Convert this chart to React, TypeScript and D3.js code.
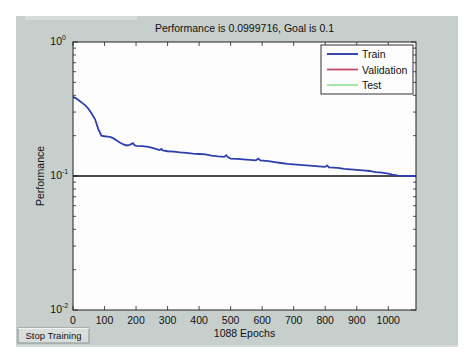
import React from "react";
import * as d3 from "d3";

const epochs = [
  0, 10, 20, 30, 40, 50, 60, 70, 80, 90, 100, 110, 120, 130, 140, 150, 160, 170,
  180, 190, 195, 200, 220, 240, 260, 275, 280, 285, 300, 320, 340, 360, 380, 400,
  420, 440, 460, 480, 486, 492, 500, 520, 540, 560, 580, 588, 594, 620, 640, 660,
  680, 700, 720, 740, 760, 780, 800, 806, 812, 840, 860, 880, 900, 920, 940, 960,
  980, 1000, 1010, 1015, 1020, 1030, 1050, 1070, 1088,
];
const trainPerf = [
  0.389, 0.38, 0.365, 0.35, 0.335, 0.315, 0.29, 0.265, 0.225, 0.2, 0.198, 0.197,
  0.195, 0.19, 0.183, 0.177, 0.172, 0.169, 0.171, 0.176, 0.17, 0.168, 0.167,
  0.165, 0.16, 0.156, 0.159, 0.155, 0.153, 0.152, 0.15, 0.149, 0.147, 0.146,
  0.145, 0.142, 0.14, 0.139, 0.143, 0.138, 0.135, 0.134, 0.133, 0.132, 0.131,
  0.135, 0.131, 0.129, 0.127, 0.125, 0.123, 0.122, 0.121, 0.12, 0.119, 0.118,
  0.117, 0.12, 0.116, 0.115, 0.113, 0.112, 0.111, 0.11, 0.109, 0.107, 0.106,
  0.104, 0.103, 0.1015, 0.102, 0.1005, 0.1001, 0.1, 0.0999716,
];
const goal = 0.1;
const xTicks = [0, 100, 200, 300, 400, 500, 600, 700, 800, 900, 1000];
const yMajor = [0.01, 0.1, 1];
const yExps = ["-2", "-1", "0"];
const legendNames = ["Train", "Validation", "Test"];
const legendColors = ["#2433a6", "#c24a66", "#9ee39a"];

const App = () => {
  const W = 474;
  const H = 364;
  const left = 73;
  const right = 416;
  const top = 42;
  const bottom = 310;

  const x = d3.scaleLinear().domain([0, 1088]).range([left, right]);
  const y = d3.scaleLog().domain([0.01, 1]).range([bottom, top]);

  const minors: number[] = [];
  [0.01, 0.1].forEach((b) => {
    for (let k = 2; k <= 9; k++) minors.push(b * k);
  });

  const line = d3
    .line<number>()
    .x((_, i) => x(epochs[i]))
    .y((d) => y(d));

  const font = "'Liberation Sans', Arial, sans-serif";

  return (
    <svg
      width={W}
      height={H}
      style={{ position: "absolute", left: 0, top: 0 }}
      fontFamily={font}
    >
      <rect x={0} y={0} width={W} height={H} fill="#ffffff" />
      <rect x={16} y={16} width={442} height={331} fill="#c6cfcc" />
      <rect x={25} y={16} width={112} height={4} fill="#d6dcda" />
      <rect x={16} y={345} width={442} height={2} fill="#d3dad8" />

      <rect x={left} y={top} width={right - left} height={bottom - top} fill="#fdfdfd" />

      {/* minor log ticks */}
      {minors.map((m, i) => (
        <g key={"mn" + i} stroke="#222" strokeWidth={0.8}>
          <line x1={left} x2={left + 3} y1={y(m)} y2={y(m)} />
          <line x1={right} x2={right - 3} y1={y(m)} y2={y(m)} />
        </g>
      ))}
      {yMajor.map((m, i) => (
        <g key={"mj" + i} stroke="#222" strokeWidth={0.8}>
          <line x1={left} x2={left + 5} y1={y(m)} y2={y(m)} />
          <line x1={right} x2={right - 5} y1={y(m)} y2={y(m)} />
        </g>
      ))}
      {xTicks.map((t) => (
        <g key={"xt" + t} stroke="#222" strokeWidth={0.8}>
          <line x1={x(t)} x2={x(t)} y1={bottom} y2={bottom - 4} />
          <line x1={x(t)} x2={x(t)} y1={top} y2={top + 4} />
        </g>
      ))}

      <line x1={left} x2={right} y1={y(goal)} y2={y(goal)} stroke="#111" strokeWidth={1.6} />
      <path d={line(trainPerf) ?? ""} fill="none" stroke="#2e3fae" strokeWidth={1.8} />

      <rect
        x={left}
        y={top}
        width={right - left}
        height={bottom - top}
        fill="none"
        stroke="#222"
        strokeWidth={1}
      />

      {/* x tick labels */}
      {xTicks.map((t) => (
        <text key={"xl" + t} x={x(t)} y={324} fontSize={10.5} textAnchor="middle" fill="#111">
          {t}
        </text>
      ))}
      <text x={(left + right) / 2} y={337} fontSize={10.5} textAnchor="middle" fill="#111">
        1088 Epochs
      </text>

      {/* y tick labels */}
      {yMajor.map((m, i) => (
        <g key={"yl" + i}>
          <text x={62} y={y(m) + 3} fontSize={10.5} textAnchor="end" fill="#111">
            10
          </text>
          <text x={62} y={y(m) - 2} fontSize={7} textAnchor="start" fill="#111">
            {yExps[i]}
          </text>
        </g>
      ))}
      <text
        transform={`translate(44,${y(goal)}) rotate(-90)`}
        fontSize={10.5}
        textAnchor="middle"
        fill="#111"
      >
        Performance
      </text>

      <text x={(left + right) / 2} y={32} fontSize={10.5} textAnchor="middle" fill="#111">
        Performance is 0.0999716, Goal is 0.1
      </text>

      {/* legend */}
      <rect x={321} y={45} width={92} height={49} fill="#fdfdfd" stroke="#333" strokeWidth={1} />
      {legendNames.map((n, i) => (
        <g key={n}>
          <line
            x1={327}
            x2={358}
            y1={54 + i * 15.5}
            y2={54 + i * 15.5}
            stroke={legendColors[i]}
            strokeWidth={1.8}
          />
          <text x={362} y={58 + i * 15.5} fontSize={10.5} fill="#111">
            {n}
          </text>
        </g>
      ))}

      {/* button */}
      <rect x={18} y={328} width={71} height={15} fill="#d8dedc" stroke="#8a908e" strokeWidth={1} />
      <line x1={18} x2={89} y1={328.5} y2={328.5} stroke="#f0f3f2" />
      <text x={53.5} y={339} fontSize={9.5} textAnchor="middle" fill="#111">
        Stop Training
      </text>
    </svg>
  );
};

export default App;
